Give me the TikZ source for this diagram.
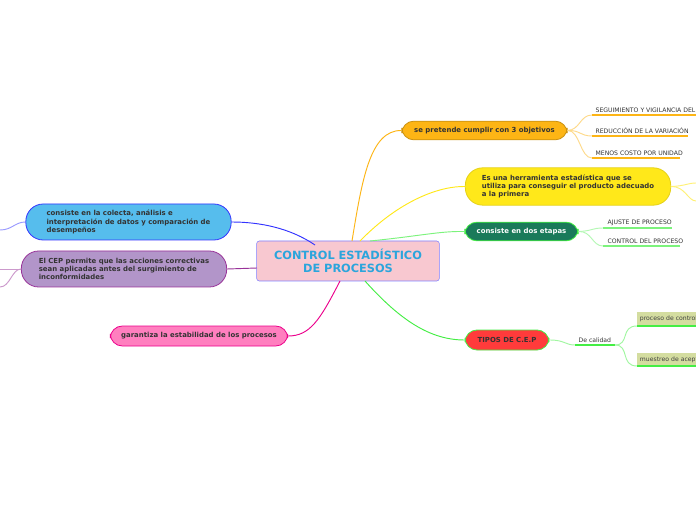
\documentclass[tikz,border=0pt]{standalone}
\usepackage{fontspec}
\setmainfont{DejaVu Sans}
\begin{document}
\begin{tikzpicture}[x=0.75pt,y=-0.75pt,
 box/.style={rounded corners=9pt,line width=0.6pt,font=\fontsize{5.2}{6.2}\selectfont\bfseries,text=black!80,align=left,inner sep=0pt},
 leaf/.style={font=\fontsize{4.6}{5}\selectfont,text=black!80,anchor=south west,inner sep=1pt},
 olbox/.style={fill=ol,anchor=west,minimum height=10pt,text width=56pt,inner sep=2pt,font=\fontsize{4.6}{5}\selectfont,text=black!75},
 con/.style={line width=0.7pt}]
\useasboundingbox (0,0) rectangle (696,520);
\clip (0,0) rectangle (696,520);
\fill[white] (0,0) rectangle (696,520);
\definecolor{cen}{HTML}{F8C8D0}\definecolor{cyanT}{HTML}{2BA5DC}
\definecolor{orng}{HTML}{FDB515}\definecolor{yel}{HTML}{FFE81A}
\definecolor{dgr}{HTML}{1A7A5A}\definecolor{red1}{HTML}{FF3B3B}
\definecolor{lg}{HTML}{44EE44}\definecolor{bl}{HTML}{56BDED}
\definecolor{pu}{HTML}{B295C9}\definecolor{pk}{HTML}{FF7FBF}
\definecolor{ol}{HTML}{D4DDA0}
% center
\node[draw=blue!50,fill=cen,rounded corners=2pt,minimum width=137pt,minimum height=30pt,font=\fontsize{8.5}{9.5}\selectfont\bfseries,text=cyanT,align=center] (c) at (348,261) {CONTROL ESTADÍSTICO\\DE PROCESOS};
% right nodes
\node[box,fill=orng,draw=orng!80!black,minimum width=124pt,minimum height=14pt,align=center] (obj) at (484.5,130.5) {se pretende cumplir con 3 objetivos};
\node[box,fill=yel,draw=yel!90!black,minimum width=154pt,minimum height=28pt,rounded corners=13pt] (her) at (568,186.5) {Es una herramienta estadística que se\\utiliza para conseguir el producto adecuado\\a la primera\hspace*{25pt}};
\node[box,fill=dgr,draw=lg,minimum width=85pt,minimum height=14pt,text=white,align=center] (eta) at (521.5,231.5) {consiste en dos etapas};
\node[box,fill=red1,draw=lg,minimum width=63pt,minimum height=15pt,align=center] (tip) at (507,340) {TIPOS DE C.E.P};
% left nodes
\node[box,fill=bl,draw=blue!80,minimum width=154pt,minimum height=27pt,rounded corners=13pt] (l1) at (128.5,222) {consiste en la colecta, análisis e\\interpretación de datos y comparación de\\desempeños};
\node[box,fill=pu,draw=violet!80,minimum width=154pt,minimum height=27pt,rounded corners=13pt] (l2) at (124,269) {El CEP permite que las acciones correctivas\\sean aplicadas antes del surgimiento de\\inconformidades};
\node[box,fill=pk,draw=magenta,minimum width=133pt,minimum height=15pt,align=center] (l3) at (199,336) {garantiza la estabilidad de los procesos};
% connectors from center
\draw[con,orng] (352,241) .. controls (362,180) and (370,130) .. (obj.west);
\draw[con,yel] (360,241) .. controls (400,200) and (440,186) .. (her.west);
\draw[con,lg!70] (370,241) .. controls (420,236) and (440,231) .. (eta.west);
\draw[con,lg] (365,281) .. controls (400,320) and (430,340) .. (tip.west);
\draw[con,blue!80] (315,245) .. controls (290,228) and (260,222) .. (l1.east);
\draw[con,violet!80] (257,268) -- (l2.east);
\draw[con,magenta] (340,281) .. controls (320,320) and (310,336) .. (l3.east);
% left stubs
\draw[con,blue!40] (l1.west) .. controls (15,222) and (12,230) .. (0,230);
\coordinate (s2) at (0,287);
\draw[con,violet!40] (l2.west) -- (0,269);
\draw[con,violet!40] (l2.west) .. controls (12,269) and (10,287) .. (s2);
% objectives leaves
\node[leaf] (o1) at (594,114) {SEGUIMIENTO Y VIGILANCIA DEL PROCESO};
\node[leaf] (o2) at (594,135) {REDUCCIÓN DE LA VARIACIÓN};
\node[leaf] (o3) at (594,157) {MENOS COSTO POR UNIDAD};
\draw[line width=1.2pt,orng] (592,115)--(700,115) (592,136)--(688,136) (592,158)--(680,158);
\draw[con,orng!50] (obj.east) .. controls (580,130) and (580,115) .. (592,115);
\draw[con,orng!50] (obj.east) .. controls (580,130) and (580,136) .. (592,136);
\draw[con,orng!50] (obj.east) .. controls (580,130) and (580,158) .. (592,158);
% herr stubs
\draw[con,yel!60] (her.east) .. controls (685,186) and (688,183) .. (696,183);
\draw[con,yel!60] (her.east) .. controls (685,186) and (688,201) .. (696,201);
% etapas leaves
\node[leaf] (e1) at (606,227) {AJUSTE DE PROCESO};
\node[leaf] (e2) at (606,245) {CONTROL DEL PROCESO};
\draw[line width=1.2pt,lg!70] (603,228)--(672,228) (603,246)--(680,246);
\draw[con,lg!40] (eta.east) .. controls (592,231) and (592,228) .. (603,228);
\draw[con,lg!40] (eta.east) .. controls (592,231) and (592,246) .. (603,246);
% tipos
\node[leaf] (dc) at (577,344) {De calidad};
\draw[line width=1.2pt,lg] (575,345)--(615,345);
\draw[con,lg!50] (tip.east) .. controls (565,340) and (565,345) .. (575,345);
\node[olbox] (p1) at (637,319) {proceso de control};
\node[olbox] (p2) at (637,359.5) {muestreo de aceptación};
\draw[line width=1.2pt,lg] (637,326)--(700,326) (637,366)--(700,366);
\draw[con,lg!50] (615,345) .. controls (630,345) and (620,326) .. (637,326);
\draw[con,lg!50] (615,345) .. controls (630,345) and (620,366) .. (637,366);
\end{tikzpicture}
\end{document}
